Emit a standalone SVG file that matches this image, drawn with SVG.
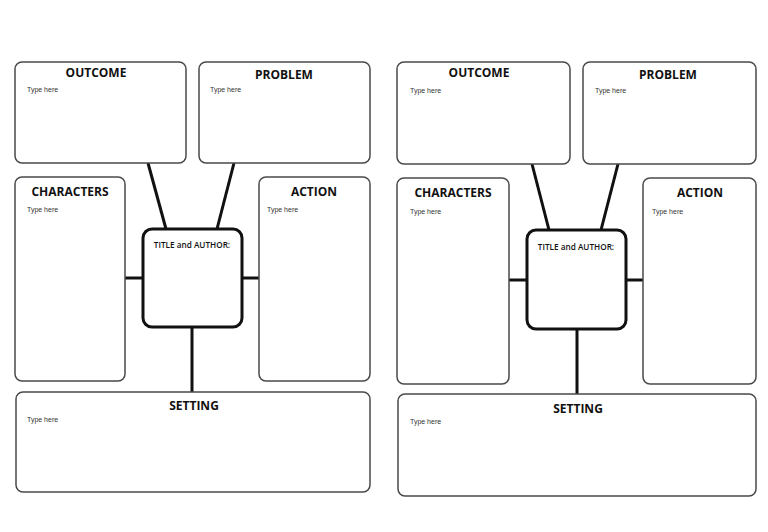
<svg xmlns="http://www.w3.org/2000/svg" width="768" height="532" viewBox="0 0 768 532">
<style>
.box{fill:#fff;stroke:#4a4a4a;stroke-width:1.5}
.center{fill:#fff;stroke:#111;stroke-width:3}
.con{stroke:#111;stroke-width:3;fill:none}
.h{font-family:"Open Sans","Noto Sans",sans-serif;font-weight:bold;font-size:12px;fill:#111;text-anchor:middle}
.t{font-family:"Liberation Sans",Arial,sans-serif;font-size:7px;fill:#333}
.ta{font-family:"Open Sans","Noto Sans",sans-serif;font-weight:600;font-size:8.2px;fill:#111;text-anchor:middle}
</style>
<rect width="768" height="532" fill="#fff"/>
<g id="connectors">
<line class="con" x1="148" y1="163" x2="166" y2="229"/>
<line class="con" x1="234" y1="163" x2="217" y2="229"/>
<line class="con" x1="125" y1="278" x2="143" y2="278"/>
<line class="con" x1="242" y1="278" x2="259" y2="278"/>
<line class="con" x1="192" y1="327" x2="192" y2="392"/>
<line class="con" x1="532" y1="164" x2="549" y2="230"/>
<line class="con" x1="618" y1="164" x2="601" y2="230"/>
<line class="con" x1="509" y1="280" x2="527" y2="280"/>
<line class="con" x1="626" y1="280" x2="643" y2="280"/>
<line class="con" x1="577" y1="329" x2="577" y2="394"/>
</g>
<g id="l-outcome"><rect class="box" x="15" y="62" width="171" height="101" rx="7"/><text class="h" x="96" y="77">OUTCOME</text><text class="t" x="27" y="92">Type here</text></g>
<g id="l-problem"><rect class="box" x="199" y="62" width="171" height="101" rx="7"/><text class="h" x="284" y="79">PROBLEM</text><text class="t" x="210" y="92">Type here</text></g>
<g id="l-characters"><rect class="box" x="15" y="177" width="110" height="204" rx="7"/><text class="h" x="70" y="196">CHARACTERS</text><text class="t" x="27" y="212">Type here</text></g>
<g id="l-action"><rect class="box" x="259" y="177" width="111" height="204" rx="7"/><text class="h" x="314" y="196">ACTION</text><text class="t" x="267" y="212">Type here</text></g>
<g id="l-title"><rect class="center" x="143" y="229" width="99" height="98" rx="9"/><text class="ta" x="192" y="248">TITLE and AUTHOR:</text></g>
<g id="l-setting"><rect class="box" x="16" y="392" width="354" height="100" rx="7"/><text class="h" x="194" y="410">SETTING</text><text class="t" x="27" y="422">Type here</text></g>
<g id="r-outcome"><rect class="box" x="397" y="62" width="173" height="102" rx="7"/><text class="h" x="479" y="77">OUTCOME</text><text class="t" x="410" y="93">Type here</text></g>
<g id="r-problem"><rect class="box" x="583" y="62" width="173" height="102" rx="7"/><text class="h" x="668" y="79">PROBLEM</text><text class="t" x="595" y="93">Type here</text></g>
<g id="r-characters"><rect class="box" x="397" y="178" width="112" height="206" rx="7"/><text class="h" x="453" y="197">CHARACTERS</text><text class="t" x="410" y="214">Type here</text></g>
<g id="r-action"><rect class="box" x="643" y="178" width="113" height="206" rx="7"/><text class="h" x="700" y="197">ACTION</text><text class="t" x="652" y="214">Type here</text></g>
<g id="r-title"><rect class="center" x="527" y="230" width="99" height="99" rx="9"/><text class="ta" x="576" y="250">TITLE and AUTHOR:</text></g>
<g id="r-setting"><rect class="box" x="398" y="394" width="358" height="102" rx="7"/><text class="h" x="578" y="413">SETTING</text><text class="t" x="410" y="424">Type here</text></g>
</svg>
